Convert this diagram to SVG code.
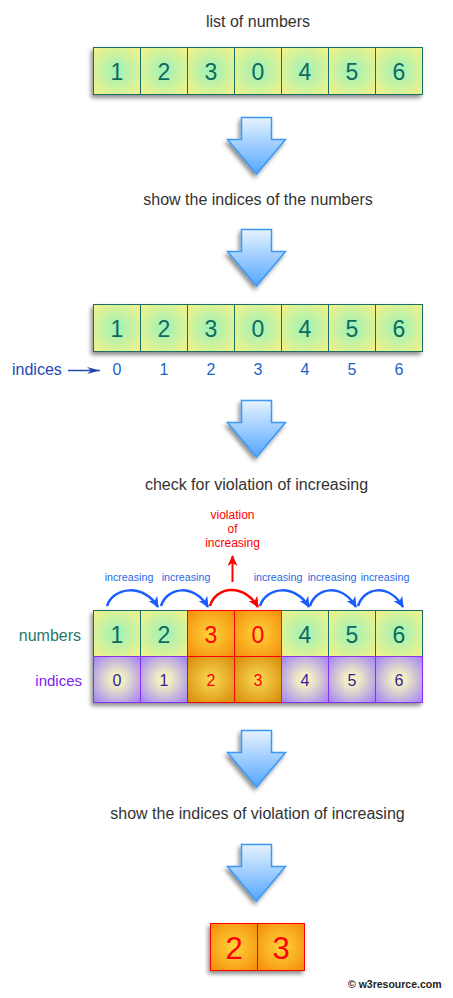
<svg xmlns="http://www.w3.org/2000/svg" width="453" height="998" viewBox="0 0 453 998">
<defs>
<style>
.cap{font-family:"Liberation Sans",Arial,sans-serif;font-size:16px;fill:#333;text-anchor:middle}
.dg{font-family:"Liberation Sans",Arial,sans-serif;font-size:23px;fill:#0e6a5c;text-anchor:middle}
.ix{font-family:"Liberation Sans",Arial,sans-serif;font-size:16px;fill:#3a1aa0;text-anchor:middle}
.ib{font-family:"Liberation Sans",Arial,sans-serif;font-size:16px;fill:#1c63c8;text-anchor:middle}
.inc{font-family:"Liberation Sans",Arial,sans-serif;font-size:10.7px;fill:#2a66e6;text-anchor:middle}
.vio{font-family:"Liberation Sans",Arial,sans-serif;font-size:12px;fill:#ff0000;text-anchor:middle}
text.dr{fill:#ff0000}
.g{fill:url(#gGreen);stroke:#17706a;stroke-width:1}
.o{fill:url(#gOrange);stroke:#ff0000;stroke-width:1}
.o2{fill:url(#gOrange2);stroke:#ff0000;stroke-width:1}
.p{fill:url(#gPurple);stroke:#8a2ff0;stroke-width:1}
.arc{fill:none;stroke:#1a5cff;stroke-width:2.5}
.arcr{fill:none;stroke:#ff0000;stroke-width:2.5}
.down{fill:url(#gBlue);stroke:#3a98f5;stroke-width:1.5;filter:url(#sh)}
</style>
<radialGradient id="gGreen" cx="0.5" cy="0.5" r="0.65">
<stop offset="0" stop-color="#9cf2bb"/>
<stop offset="1" stop-color="#f0f28a"/>
</radialGradient>
<radialGradient id="gOrange" cx="0.5" cy="0.5" r="0.65">
<stop offset="0" stop-color="#ffd53c"/>
<stop offset="1" stop-color="#f5900e"/>
</radialGradient>
<radialGradient id="gOrange2" cx="0.5" cy="0.5" r="0.65">
<stop offset="0" stop-color="#fadb55"/>
<stop offset="1" stop-color="#d98e0c"/>
</radialGradient>
<radialGradient id="gPurple" cx="0.5" cy="0.5" r="0.65">
<stop offset="0" stop-color="#f6f6c2"/>
<stop offset="0.25" stop-color="#eeeac4"/>
<stop offset="1" stop-color="#a68af2"/>
</radialGradient>
<linearGradient id="gBlue" x1="0" y1="0" x2="0" y2="1">
<stop offset="0" stop-color="#e6f3ff"/>
<stop offset="1" stop-color="#55a6ff"/>
</linearGradient>
<filter id="sh" x="-20%" y="-20%" width="140%" height="150%">
<feDropShadow dx="-2" dy="3" stdDeviation="2" flood-color="#000" flood-opacity="0.45"/>
</filter>
<path id="dn" d="M-15,0 H15 V22 H29 L0,56.5 L-29,22 H-15 Z"/>
<marker id="mb" markerUnits="userSpaceOnUse" markerWidth="14" markerHeight="14" refX="10" refY="5" orient="auto">
<path d="M0,0 L11,5 L0,10 L3,5 Z" fill="#1a5cff"/>
</marker>
<marker id="mr" markerUnits="userSpaceOnUse" markerWidth="14" markerHeight="14" refX="10" refY="5" orient="auto">
<path d="M0,0 L11,5 L0,10 L3,5 Z" fill="#ff0000"/>
</marker>
<marker id="mi" markerUnits="userSpaceOnUse" markerWidth="16" markerHeight="10" refX="13" refY="4" orient="auto">
<path d="M0,0.5 L13,4 L0,7.5 L4,4 Z" fill="#2448b0"/>
</marker>
</defs>
<rect width="453" height="998" fill="#ffffff"/>

<g id="title1"><text class="cap" x="258" y="26.5">list of numbers</text></g>

<g id="array1" filter="url(#sh)">
<rect class="g" x="93.5" y="47.5" width="47" height="47"/>
<rect class="g" x="140.5" y="47.5" width="47" height="47"/>
<rect class="g" x="187.5" y="47.5" width="47" height="47"/>
<rect class="g" x="234.5" y="47.5" width="47" height="47"/>
<rect class="g" x="281.5" y="47.5" width="47" height="47"/>
<rect class="g" x="328.5" y="47.5" width="47" height="47"/>
<rect class="g" x="375.5" y="47.5" width="47" height="47"/>
</g>
<g id="array1-text">
<text class="dg" x="117" y="79.5">1</text>
<text class="dg" x="164" y="79.5">2</text>
<text class="dg" x="211" y="79.5">3</text>
<text class="dg" x="258" y="79.5">0</text>
<text class="dg" x="305" y="79.5">4</text>
<text class="dg" x="352" y="79.5">5</text>
<text class="dg" x="399" y="79.5">6</text>
</g>

<g id="title2"><text class="cap" x="258" y="205">show the indices of the numbers</text></g>

<g id="array2" filter="url(#sh)">
<rect class="g" x="93.5" y="304.5" width="47" height="47"/>
<rect class="g" x="140.5" y="304.5" width="47" height="47"/>
<rect class="g" x="187.5" y="304.5" width="47" height="47"/>
<rect class="g" x="234.5" y="304.5" width="47" height="47"/>
<rect class="g" x="281.5" y="304.5" width="47" height="47"/>
<rect class="g" x="328.5" y="304.5" width="47" height="47"/>
<rect class="g" x="375.5" y="304.5" width="47" height="47"/>
</g>
<g id="array2-text">
<text class="dg" x="117" y="336.5">1</text>
<text class="dg" x="164" y="336.5">2</text>
<text class="dg" x="211" y="336.5">3</text>
<text class="dg" x="258" y="336.5">0</text>
<text class="dg" x="305" y="336.5">4</text>
<text class="dg" x="352" y="336.5">5</text>
<text class="dg" x="399" y="336.5">6</text>
</g>

<g id="indices-row">
<text x="12" y="374.5" style="font-family:'Liberation Sans',Arial,sans-serif;font-size:16px;fill:#2448b0">indices</text>
<text class="ib" x="117" y="374.5">0</text>
<text class="ib" x="164" y="374.5">1</text>
<text class="ib" x="211" y="374.5">2</text>
<text class="ib" x="258" y="374.5">3</text>
<text class="ib" x="305" y="374.5">4</text>
<text class="ib" x="352" y="374.5">5</text>
<text class="ib" x="399" y="374.5">6</text>
</g>

<g id="title3"><text class="cap" x="256.5" y="489.5">check for violation of increasing</text></g>

<g id="violation-label">
<text class="vio" x="232.5" y="518.5">violation</text>
<text class="vio" x="232.5" y="532.5">of</text>
<text class="vio" x="232.5" y="546.5">increasing</text>
</g>

<g id="increasing-labels">
<text class="inc" x="129" y="581">increasing</text>
<text class="inc" x="186" y="581">increasing</text>
<text class="inc" x="278" y="581">increasing</text>
<text class="inc" x="332" y="581">increasing</text>
<text class="inc" x="385" y="581">increasing</text>
</g>

<g id="array3" filter="url(#sh)">
<rect class="g" x="93.5" y="610.5" width="47" height="46"/>
<rect class="g" x="140.5" y="610.5" width="47" height="46"/>
<rect class="o" x="187.5" y="610.5" width="47" height="46"/>
<rect class="o" x="234.5" y="610.5" width="47" height="46"/>
<rect class="g" x="281.5" y="610.5" width="47" height="46"/>
<rect class="g" x="328.5" y="610.5" width="47" height="46"/>
<rect class="g" x="375.5" y="610.5" width="47" height="46"/>
<rect class="p" x="93.5" y="656.5" width="47" height="46"/>
<rect class="p" x="140.5" y="656.5" width="47" height="46"/>
<rect class="o2" x="187.5" y="656.5" width="47" height="46"/>
<rect class="o2" x="234.5" y="656.5" width="47" height="46"/>
<rect class="p" x="281.5" y="656.5" width="47" height="46"/>
<rect class="p" x="328.5" y="656.5" width="47" height="46"/>
<rect class="p" x="375.5" y="656.5" width="47" height="46"/>
</g>
<g id="array3-text">
<text x="81" y="641" style="font-family:'Liberation Sans',Arial,sans-serif;font-size:16px;fill:#26786a;text-anchor:end">numbers</text>
<text x="82" y="686" style="font-family:'Liberation Sans',Arial,sans-serif;font-size:15px;fill:#7a22ee;text-anchor:end">indices</text>
<text class="dg" x="117" y="642.5">1</text>
<text class="dg" x="164" y="642.5">2</text>
<text class="dg dr" x="211" y="642.5">3</text>
<text class="dg dr" x="258" y="642.5">0</text>
<text class="dg" x="305" y="642.5">4</text>
<text class="dg" x="352" y="642.5">5</text>
<text class="dg" x="399" y="642.5">6</text>
<text class="ix" x="117" y="685.5">0</text>
<text class="ix" x="164" y="685.5">1</text>
<text class="ix dr" x="211" y="685.5">2</text>
<text class="ix dr" x="258" y="685.5">3</text>
<text class="ix" x="305" y="685.5">4</text>
<text class="ix" x="352" y="685.5">5</text>
<text class="ix" x="399" y="685.5">6</text>
</g>

<g id="title4"><text class="cap" x="257.5" y="818.5">show the indices of violation of increasing</text></g>

<g id="result" filter="url(#sh)">
<rect class="o" x="210.5" y="923.5" width="47" height="47"/>
<rect class="o" x="257.5" y="923.5" width="47" height="47"/>
</g>
<g id="result-text">
<text class="dg dr" x="234" y="958.5" style="font-size:31px">2</text>
<text class="dg dr" x="281" y="958.5" style="font-size:31px">3</text>
</g>

<g id="connectors">
<use href="#dn" class="down" x="256.5" y="117.5"/>
<use href="#dn" class="down" x="256.5" y="229.5"/>
<use href="#dn" class="down" x="256.5" y="400.5"/>
<use href="#dn" class="down" x="256.5" y="730.5"/>
<use href="#dn" class="down" x="256.5" y="844.5"/>
<path d="M68,370.5 H100" stroke="#2448b0" stroke-width="1.5" fill="none" marker-end="url(#mi)"/>
<path class="arc" d="M107,606 C113,587 144,583 158,607" marker-end="url(#mb)"/>
<path class="arc" d="M161,606 C167,587 194,583 208,607" marker-end="url(#mb)"/>
<path class="arcr" d="M210,606 C216,586 244,583 258,607" marker-end="url(#mr)"/>
<path class="arc" d="M260,606 C266,587 295,583 309,607" marker-end="url(#mb)"/>
<path class="arc" d="M310,606 C316,587 342,583 356,607" marker-end="url(#mb)"/>
<path class="arc" d="M358,606 C364,587 389,583 403,607" marker-end="url(#mb)"/>
<path d="M232.5,582 V556" stroke="#ff0000" stroke-width="2" fill="none" marker-end="url(#mr)"/>
</g>

<g id="copyright"><text x="348" y="988" style="font-family:'Liberation Sans',Arial,sans-serif;font-size:10.5px;font-weight:bold;fill:#222">© w3resource.com</text></g>
</svg>
